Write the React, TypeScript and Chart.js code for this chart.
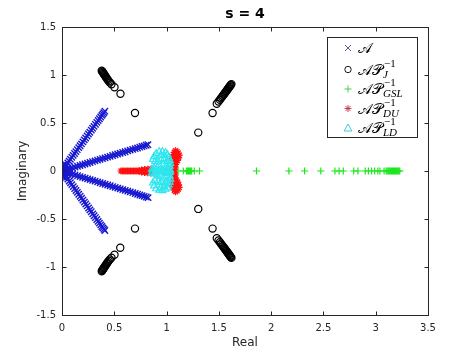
import React, { useEffect, useRef } from "react";
import { Chart, registerables } from "chart.js";

Chart.register(...registerables);

type Pt = [number, number];

const chartTitle = "s = 4";
const xAxisTitle = "Real";
const yAxisTitle = "Imaginary";
const xTickValues = [0, 0.5, 1, 1.5, 2, 2.5, 3, 3.5];
const xTickLabels = ["0", "0.5", "1", "1.5", "2", "2.5", "3", "3.5"];
const yTickValues = [-1.5, -1, -0.5, 0, 0.5, 1, 1.5];
const yTickLabels = ["-1.5", "-1", "-0.5", "0", "0.5", "1", "1.5"];
const legendSubscripts = ["", "J", "GSL", "DU", "LD"];

// Series A (blue x): origin cluster and four rays
const aOrigin: Pt[] = [
  [0, 0], [0.01, 0.015], [0.01, -0.015], [0.02, 0.035], [0.02, -0.035], [0.005, 0.05], [0.005, -0.05],
  [0.03, 0.005], [0.035, -0.01], [0.015, 0.065], [0.015, -0.065], [0.045, 0.02], [0.045, -0.02],
  [0.06, 0.01], [0.06, -0.01], [0.025, 0.0], [0.0, 0.03], [0.0, -0.03], [0.07, 0.0], [0.04, 0.045], [0.04, -0.045],
];
const aUpperOuter: Pt[] = [
  [0.03, 0.046], [0.042, 0.064], [0.055, 0.084], [0.068, 0.103], [0.08, 0.122], [0.094, 0.143], [0.107, 0.163],
  [0.12, 0.182], [0.133, 0.202], [0.146, 0.222], [0.16, 0.243], [0.173, 0.263], [0.186, 0.283], [0.2, 0.304],
  [0.213, 0.324], [0.226, 0.344], [0.24, 0.365], [0.253, 0.385], [0.266, 0.404], [0.28, 0.426], [0.293, 0.445],
  [0.306, 0.465], [0.32, 0.486], [0.333, 0.506], [0.346, 0.526], [0.358, 0.544], [0.37, 0.562], [0.381, 0.579],
  [0.391, 0.594], [0.4, 0.608], [0.41, 0.623],
];
const aLowerOuter: Pt[] = [
  [0.03, -0.047], [0.043, -0.065], [0.056, -0.085], [0.069, -0.104], [0.081, -0.122], [0.094, -0.142], [0.108, -0.163],
  [0.121, -0.183], [0.134, -0.203], [0.147, -0.222], [0.16, -0.242], [0.174, -0.263], [0.187, -0.283], [0.2, -0.303],
  [0.214, -0.324], [0.227, -0.344], [0.24, -0.364], [0.254, -0.385], [0.267, -0.405], [0.28, -0.425], [0.294, -0.446],
  [0.307, -0.466], [0.32, -0.485], [0.333, -0.505], [0.346, -0.525], [0.358, -0.543], [0.37, -0.561], [0.381, -0.578],
  [0.391, -0.593], [0.401, -0.607], [0.41, -0.62],
];
const aUpperInner: Pt[] = [
  [0.05, 0.017], [0.075, 0.025], [0.1, 0.033], [0.124, 0.041], [0.148, 0.049], [0.172, 0.057], [0.196, 0.065],
  [0.22, 0.073], [0.244, 0.081], [0.268, 0.089], [0.292, 0.097], [0.316, 0.105], [0.34, 0.113], [0.364, 0.121],
  [0.388, 0.129], [0.412, 0.137], [0.436, 0.145], [0.46, 0.153], [0.484, 0.161], [0.508, 0.169], [0.532, 0.177],
  [0.556, 0.185], [0.58, 0.193], [0.604, 0.201], [0.628, 0.209], [0.652, 0.217], [0.676, 0.225], [0.7, 0.233],
  [0.722, 0.24], [0.744, 0.248], [0.765, 0.255], [0.785, 0.261], [0.805, 0.268], [0.822, 0.274],
];
const aLowerInner: Pt[] = [
  [0.05, -0.018], [0.076, -0.026], [0.101, -0.034], [0.125, -0.042], [0.149, -0.05], [0.173, -0.058], [0.197, -0.066],
  [0.221, -0.074], [0.245, -0.082], [0.269, -0.09], [0.293, -0.098], [0.317, -0.106], [0.341, -0.114], [0.365, -0.122],
  [0.389, -0.13], [0.413, -0.138], [0.437, -0.146], [0.461, -0.154], [0.485, -0.162], [0.509, -0.17], [0.533, -0.178],
  [0.557, -0.186], [0.581, -0.194], [0.605, -0.202], [0.629, -0.21], [0.653, -0.218], [0.677, -0.226], [0.701, -0.234],
  [0.723, -0.242], [0.745, -0.25], [0.766, -0.257], [0.786, -0.264], [0.806, -0.271], [0.823, -0.277],
];

// Series AP_J^-1 (black circles)
const jUpperLeft: Pt[] = [
  [0.38, 1.045], [0.384, 1.038], [0.388, 1.031], [0.392, 1.025], [0.396, 1.018], [0.4, 1.011], [0.405, 1.003],
  [0.41, 0.995], [0.415, 0.987], [0.42, 0.978], [0.426, 0.969], [0.432, 0.959], [0.439, 0.947], [0.447, 0.935],
  [0.458, 0.921], [0.473, 0.904], [0.502, 0.873], [0.559, 0.805], [0.698, 0.604],
];
const jLowerLeft: Pt[] = [
  [0.38, -1.045], [0.384, -1.038], [0.388, -1.031], [0.392, -1.025], [0.396, -1.018], [0.4, -1.011], [0.405, -1.003],
  [0.41, -0.995], [0.415, -0.987], [0.42, -0.978], [0.426, -0.969], [0.432, -0.959], [0.439, -0.947], [0.447, -0.935],
  [0.458, -0.921], [0.473, -0.904], [0.502, -0.873], [0.557, -0.8], [0.698, -0.6],
];
const jUpperRight: Pt[] = [
  [1.62, 0.905], [1.615, 0.897], [1.61, 0.89], [1.605, 0.882], [1.6, 0.875], [1.595, 0.867], [1.59, 0.86],
  [1.584, 0.851], [1.578, 0.842], [1.572, 0.833], [1.566, 0.824], [1.56, 0.815], [1.553, 0.805], [1.546, 0.795],
  [1.538, 0.783], [1.53, 0.771], [1.52, 0.757], [1.51, 0.742], [1.497, 0.723], [1.48, 0.7], [1.44, 0.604], [1.303, 0.4],
];
const jLowerRight: Pt[] = [
  [1.62, -0.905], [1.615, -0.897], [1.61, -0.89], [1.605, -0.882], [1.6, -0.875], [1.595, -0.867], [1.59, -0.86],
  [1.584, -0.851], [1.578, -0.842], [1.572, -0.833], [1.566, -0.824], [1.56, -0.815], [1.553, -0.805], [1.546, -0.795],
  [1.538, -0.783], [1.53, -0.771], [1.52, -0.757], [1.51, -0.742], [1.497, -0.723], [1.48, -0.7], [1.44, -0.6], [1.303, -0.395],
];

// Series AP_GSL^-1 (green plus), all on the real axis
const gslReal = [
  1.065, 1.11, 1.16, 1.19, 1.2, 1.21, 1.22, 1.23, 1.24, 1.265, 1.315, 1.86, 2.17, 2.32, 2.475, 2.61, 2.65, 2.69,
  2.79, 2.83, 2.9, 2.93, 2.96, 2.99, 3.02, 3.04, 3.08, 3.1, 3.11, 3.12, 3.13, 3.14, 3.15, 3.16, 3.17, 3.18, 3.19,
  3.2, 3.21, 3.22, 3.23,
];
const gslImag = [
  0, 0, 0, 0, 0, 0, 0, 0, 0, 0, 0, 0, 0, 0, 0, 0, 0, 0, 0, 0, 0, 0, 0, 0, 0, 0, 0, 0, 0, 0, 0, 0, 0, 0, 0, 0, 0,
  0, 0, 0, 0,
];

// Series AP_DU^-1 (red stars)
const duAxis: Pt[] = [
  [0.565, 0], [0.58, 0], [0.595, 0], [0.61, 0], [0.625, 0], [0.64, 0], [0.655, 0], [0.67, 0], [0.685, 0],
  [0.7, 0], [0.715, 0], [0.73, 0], [0.745, 0], [0.76, 0.01], [0.76, -0.01], [0.775, 0], [0.79, 0.015], [0.79, -0.015],
  [0.805, 0], [0.82, 0.018], [0.82, -0.018], [0.835, 0], [0.85, 0.02], [0.85, -0.02], [0.865, 0], [0.88, 0],
  [1.0, 0], [1.03, 0], [1.05, 0],
];
const duUpperLobe: Pt[] = [
  [1.075, 0.02], [1.08, 0.04], [1.075, 0.06], [1.085, 0.07], [1.07, 0.09], [1.09, 0.09], [1.065, 0.11], [1.085, 0.11],
  [1.105, 0.11], [1.06, 0.13], [1.08, 0.13], [1.1, 0.13], [1.115, 0.14], [1.06, 0.15], [1.085, 0.155], [1.105, 0.16],
  [1.12, 0.165], [1.065, 0.17], [1.09, 0.18], [1.11, 0.185], [1.075, 0.195], [1.1, 0.2], [1.085, 0.21],
];
const duLowerLobe: Pt[] = [
  [1.075, -0.02], [1.08, -0.04], [1.075, -0.06], [1.085, -0.075], [1.07, -0.09], [1.09, -0.095], [1.065, -0.11],
  [1.085, -0.115], [1.105, -0.115], [1.06, -0.13], [1.08, -0.135], [1.1, -0.135], [1.115, -0.145], [1.06, -0.155],
  [1.085, -0.16], [1.105, -0.165], [1.12, -0.17], [1.065, -0.175], [1.09, -0.185], [1.11, -0.19], [1.075, -0.2],
  [1.1, -0.205], [1.085, -0.215],
];

// Series AP_LD^-1 (cyan triangles)
const ldUpper: Pt[] = [
  [0.93, 0.2], [0.96, 0.2], [0.99, 0.19], [1.01, 0.17], [0.9, 0.18], [0.88, 0.15], [0.87, 0.12], [0.89, 0.1],
  [0.92, 0.1], [0.95, 0.12], [0.98, 0.13], [1.02, 0.14], [1.03, 0.11], [1.035, 0.08], [1.03, 0.05], [1.0, 0.06],
  [0.97, 0.07], [0.94, 0.05], [0.91, 0.04], [0.88, 0.03], [0.86, 0.02], [0.9, 0.015], [0.94, 0.01], [0.98, 0.02],
  [1.01, 0.025], [1.03, 0.015], [0.945, 0.165], [0.975, 0.16], [1.005, 0.1],
];
const ldAxis: Pt[] = [[0.87, 0], [0.92, 0], [0.96, 0], [1.0, 0], [1.035, 0]];
const ldLower: Pt[] = [
  [0.93, -0.2], [0.96, -0.205], [0.99, -0.19], [1.01, -0.175], [0.9, -0.185], [0.88, -0.155], [0.87, -0.125],
  [0.89, -0.1], [0.92, -0.105], [0.95, -0.12], [0.98, -0.135], [1.02, -0.145], [1.03, -0.115], [1.035, -0.085],
  [1.03, -0.05], [1.0, -0.06], [0.97, -0.075], [0.94, -0.05], [0.91, -0.04], [0.88, -0.03], [0.86, -0.02],
  [0.9, -0.015], [0.94, -0.01], [0.98, -0.02], [1.01, -0.025], [1.03, -0.015], [0.945, -0.17], [0.975, -0.165],
  [1.005, -0.105],
];

const toXY = (pts: Pt[]) => pts.map(([x, y]) => ({ x, y }));

const COLORS = {
  a: "#1818d2",
  j: "#000000",
  gsl: "#1ee61e",
  du: "#ff1010",
  ld: "#2ee6ee",
};
const LEGEND_COLORS = ["#4b4b86", "#000000", "#3cc83c", "#c8283e", "#2cc6d2"];

function drawMarker(ctx: CanvasRenderingContext2D, kind: number, x: number, y: number) {
  ctx.beginPath();
  const r = 3;
  if (kind === 0) {
    ctx.moveTo(x - r, y - r); ctx.lineTo(x + r, y + r);
    ctx.moveTo(x - r, y + r); ctx.lineTo(x + r, y - r);
  } else if (kind === 1) {
    ctx.arc(x, y, 3.2, 0, Math.PI * 2);
  } else if (kind === 2) {
    ctx.moveTo(x - 3.5, y); ctx.lineTo(x + 3.5, y);
    ctx.moveTo(x, y - 3.5); ctx.lineTo(x, y + 3.5);
  } else if (kind === 3) {
    ctx.moveTo(x - 3.5, y); ctx.lineTo(x + 3.5, y);
    ctx.moveTo(x, y - 3.5); ctx.lineTo(x, y + 3.5);
    ctx.moveTo(x - 2.5, y - 2.5); ctx.lineTo(x + 2.5, y + 2.5);
    ctx.moveTo(x - 2.5, y + 2.5); ctx.lineTo(x + 2.5, y - 2.5);
  } else {
    ctx.moveTo(x, y - 4); ctx.lineTo(x + 3.8, y + 3); ctx.lineTo(x - 3.8, y + 3); ctx.closePath();
  }
  ctx.stroke();
}

const decorPlugin = {
  id: "decor",
  afterDraw(chart: any) {
    const ctx: CanvasRenderingContext2D = chart.ctx;
    const { left, right, top, bottom } = chart.chartArea;
    const xs = chart.scales.x;
    const ys = chart.scales.y;
    ctx.save();
    // frame
    ctx.strokeStyle = "#262626";
    ctx.lineWidth = 1;
    ctx.strokeRect(left + 0.5, top + 0.5, right - left, bottom - top);
    // inward ticks
    ctx.beginPath();
    xTickValues.forEach((v) => {
      const px = Math.round(xs.getPixelForValue(v)) + 0.5;
      ctx.moveTo(px, bottom + 0.5); ctx.lineTo(px, bottom - 3.5);
      ctx.moveTo(px, top + 0.5); ctx.lineTo(px, top + 4.5);
    });
    yTickValues.forEach((v) => {
      const py = Math.round(ys.getPixelForValue(v)) + 0.5;
      ctx.moveTo(left + 0.5, py); ctx.lineTo(left + 4.5, py);
      ctx.moveTo(right + 0.5, py); ctx.lineTo(right - 3.5, py);
    });
    ctx.stroke();

    // titles
    ctx.fillStyle = "#000";
    ctx.textAlign = "center";
    ctx.textBaseline = "middle";
    ctx.font = 'bold 14px "DejaVu Sans"';
    ctx.fillText(chartTitle, (left + right) / 2, 14);
    ctx.fillStyle = "#262626";
    ctx.font = '12px "DejaVu Sans"';
    ctx.fillText(xAxisTitle, (left + right) / 2, 343);
    ctx.save();
    ctx.translate(23, (top + bottom) / 2);
    ctx.rotate(-Math.PI / 2);
    ctx.fillText(yAxisTitle, 0, 0);
    ctx.restore();

    // legend
    const lx = 327, ly = 37, lw = 90, lh = 100;
    ctx.fillStyle = "#fff";
    ctx.fillRect(lx, ly, lw, lh);
    ctx.strokeStyle = "#262626";
    ctx.strokeRect(lx + 0.5, ly + 0.5, lw, lh);
    const rowsY = [48, 69.5, 89, 108.5, 128];
    legendSubscripts.forEach((sub, i) => {
      const cy = rowsY[i];
      ctx.strokeStyle = LEGEND_COLORS[i];
      ctx.lineWidth = 0.9;
      drawMarker(ctx, i, 348, cy);
      ctx.fillStyle = "#000";
      ctx.textAlign = "left";
      ctx.textBaseline = "alphabetic";
      ctx.font = '15px "DejaVu Serif", "DejaVu Sans", serif';
      const main = i === 0 ? "\u{1D49C}" : "\u{1D49C}\u{1D4AB}";
      const tx = 358;
      const base = cy + 5;
      ctx.fillText(main, tx, base);
      if (i > 0) {
        const w = ctx.measureText(main).width;
        ctx.font = '11px "Liberation Serif", serif';
        ctx.fillText("\u22121", tx + w + 1, base - 8);
        ctx.font = 'italic 11px "Liberation Serif", serif';
        ctx.fillText(sub, tx + w, base + 3);
      }
    });
    ctx.restore();
  },
};

export default function App() {
  const ref = useRef<HTMLCanvasElement | null>(null);
  useEffect(() => {
    document.body.style.margin = "0";
    const canvas = ref.current;
    if (!canvas) return;
    const chart = new Chart(canvas, {
      type: "scatter",
      data: {
        datasets: [
          {
            label: "A",
            data: toXY([...aOrigin, ...aUpperOuter, ...aLowerOuter, ...aUpperInner, ...aLowerInner]),
            pointStyle: "crossRot",
            radius: 4.5,
            borderColor: COLORS.a,
            backgroundColor: COLORS.a,
            borderWidth: 1.4,
            order: 5,
          },
          {
            label: "APJ",
            data: toXY([...jUpperLeft, ...jLowerLeft, ...jUpperRight, ...jLowerRight]),
            pointStyle: "circle",
            radius: 3.6,
            borderColor: COLORS.j,
            backgroundColor: "rgba(0,0,0,0)",
            borderWidth: 1.2,
            order: 4,
          },
          {
            label: "APGSL",
            data: gslReal.map((x, i) => ({ x, y: gslImag[i] })),
            pointStyle: "cross",
            radius: 3.6,
            borderColor: COLORS.gsl,
            backgroundColor: COLORS.gsl,
            borderWidth: 1.2,
            order: 3,
          },
          {
            label: "APDU",
            data: toXY([...duAxis, ...duUpperLobe, ...duLowerLobe]),
            pointStyle: "star",
            radius: 3.6,
            borderColor: COLORS.du,
            backgroundColor: COLORS.du,
            borderWidth: 1.2,
            order: 2,
          },
          {
            label: "APLD",
            data: toXY([...ldUpper, ...ldAxis, ...ldLower]),
            pointStyle: "triangle",
            radius: 4,
            borderColor: COLORS.ld,
            backgroundColor: "rgba(0,0,0,0)",
            borderWidth: 1.2,
            order: 1,
          },
        ],
      },
      options: {
        responsive: false,
        animation: false,
        events: [],
        layout: { padding: { left: 0, right: 46, top: 27, bottom: 0 } },
        plugins: { legend: { display: false }, tooltip: { enabled: false }, title: { display: false } },
        scales: {
          x: {
            type: "linear",
            min: 0,
            max: 3.5,
            afterFit: (s: any) => { s.height = 40; },
            afterBuildTicks: (s: any) => { s.ticks = xTickValues.map((v) => ({ value: v })); },
            ticks: {
              padding: 7,
              color: "#262626",
              font: { family: "DejaVu Sans", size: 10 },
              callback: (_v: any, i: number) => xTickLabels[i],
            },
            grid: { display: false, drawTicks: false },
            border: { display: false },
          },
          y: {
            type: "linear",
            min: -1.5,
            max: 1.5,
            afterFit: (s: any) => { s.width = 62; },
            afterBuildTicks: (s: any) => { s.ticks = yTickValues.map((v) => ({ value: v })); },
            ticks: {
              padding: 6,
              color: "#262626",
              font: { family: "DejaVu Sans", size: 10 },
              callback: (_v: any, i: number) => yTickLabels[i],
            },
            grid: { display: false, drawTicks: false },
            border: { display: false },
          },
        },
      } as any,
      plugins: [decorPlugin],
    });
    return () => chart.destroy();
  }, []);
  return (
    <canvas ref={ref} width={474} height={355} style={{ display: "block", width: 474, height: 355 }} />
  );
}
